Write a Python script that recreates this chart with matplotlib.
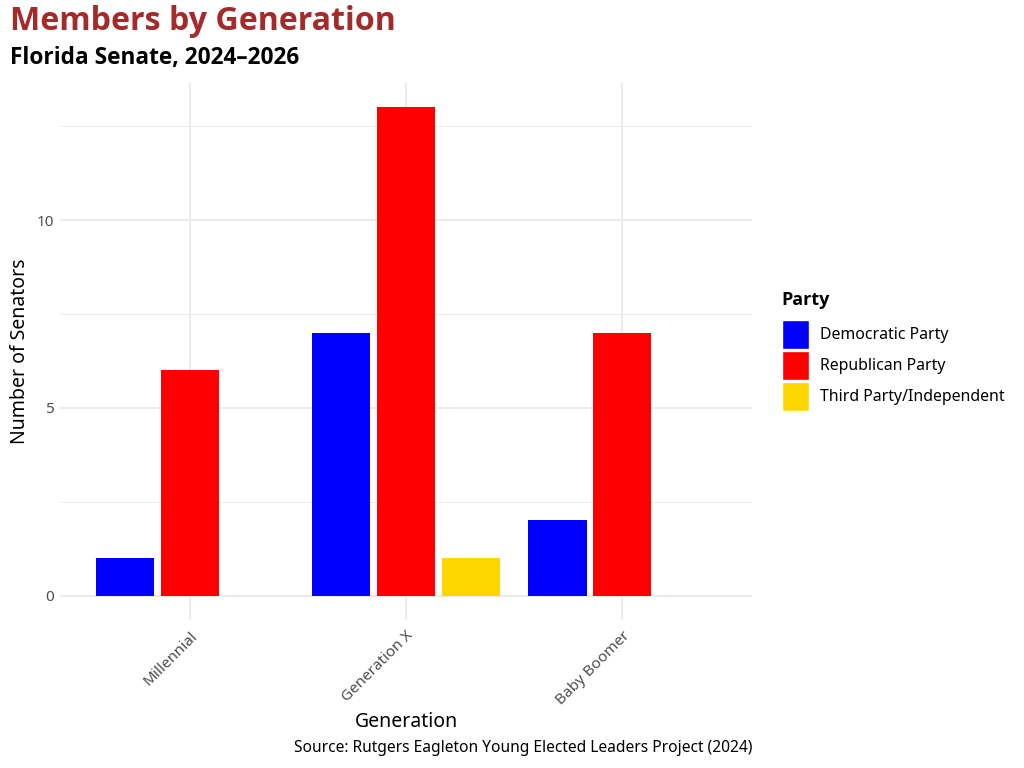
import matplotlib
matplotlib.use("Agg")
import matplotlib.pyplot as plt
import numpy as np

generations = ["Millennial", "Generation X", "Baby Boomer"]
parties = ["Democratic Party", "Republican Party", "Third Party/Independent"]
colors = ["#0000FF", "#FF0000", "#FFD700"]
democratic = [1, 7, 2]
republican = [6, 13, 7]
third = [0, 1, 0]
values = [democratic, republican, third]

plt.rcParams['font.family'] = ['Noto Sans', 'DejaVu Sans']
BOLD = ['Open Sans', 'Noto Sans', 'DejaVu Sans']

fig = plt.figure(figsize=(10.24, 7.68), dpi=100)
W, H = 1024, 768
ax = fig.add_axes([60 / W, (H - 620) / H, 692 / W, (620 - 83) / H])

x = np.arange(len(generations))
bw = 0.27
offsets = [-0.3, 0.0, 0.3]
handles = []
for vals, off, c, name in zip(values, offsets, colors, parties):
    xs = [xi + off for xi, v in zip(x, vals) if v > 0]
    vs = [v for v in vals if v > 0]
    b = ax.bar(xs, vs, width=bw, color=c, label=name, zorder=3)
    handles.append(b)

ax.set_xlim(-0.6, 2.6)
ax.set_ylim(-0.65, 13.65)
ax.set_yticks([0, 5, 10])
ax.set_yticks([2.5, 7.5, 12.5], minor=True)
ax.set_xticks(x)
ax.set_xticklabels(generations, rotation=45, ha="right", va="top",
                   rotation_mode="anchor", fontsize=11, color="#4D4D4D")
ax.tick_params(axis="y", labelsize=11, labelcolor="#4D4D4D", length=0, pad=4)
ax.tick_params(axis="y", which="minor", length=0)
ax.tick_params(axis="x", length=0, pad=6)
ax.grid(True, which="major", color="#EBEBEB", linewidth=1.4, zorder=0)
ax.grid(True, which="minor", axis="y", color="#EBEBEB", linewidth=0.7, zorder=0)
for s in ax.spines.values():
    s.set_visible(False)

ax.set_xlabel("Generation", fontsize=14, labelpad=3)
ax.set_ylabel("Number of Senators", fontsize=14, labelpad=5)

fig.text(10 / W, 1 - 22 / H, "Members by Generation", fontsize=23.1, fontweight="bold",
         family=BOLD, color="#A52A2A", va="center", ha="left")
fig.text(10 / W, 1 - 58 / H, "Florida Senate, 2024\u20132026", fontsize=16.3, fontweight="bold",
         family=BOLD, color="black", va="center", ha="left")
fig.text(752 / W, 1 - 748 / H, "Source: Rutgers Eagleton Young Elected Leaders Project (2024)",
         fontsize=11.2, ha="right", va="center")

fig.text(781 / W, 1 - 300 / H, "Party", fontsize=13, fontweight="bold", family=BOLD,
         ha="left", va="center")
leg = fig.legend(handles=handles, labels=parties, loc="upper left",
                 bbox_to_anchor=(769 / W, 1 - 307 / H), frameon=False,
                 fontsize=11.4, handlelength=1.75, handleheight=2.45,
                 labelspacing=0.13, handletextpad=0.65, borderpad=0.3)
for p in leg.get_patches():
    p.set_edgecolor("white")

fig.savefig("out.png", dpi=100, facecolor="white")
